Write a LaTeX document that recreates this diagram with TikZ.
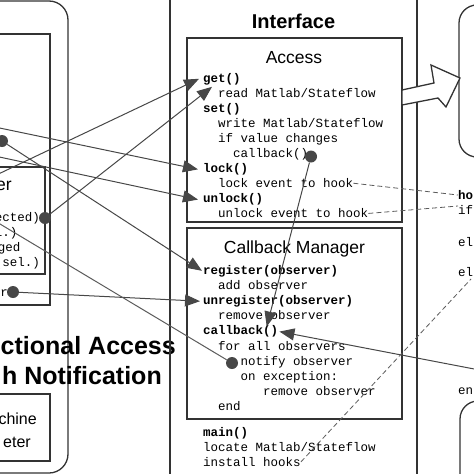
\documentclass[tikz,border=0pt]{standalone}
\usepackage{fontspec}
\setmainfont{Liberation Sans}
\newfontfamily\codefont{Liberation Mono}
\usetikzlibrary{arrows.meta}
\definecolor{framec}{HTML}{333333}
\definecolor{wirec}{HTML}{5C5C5C}
\definecolor{dotc}{HTML}{474747}
\newcommand{\codesize}{\fontsize{12.5}{15}\selectfont}
\begin{document}
\begin{tikzpicture}[x=1pt,y=-1pt,
  frame/.style={draw=framec,line width=1.3pt},
  code/.style={font=\codefont\codesize,anchor=base west,inner sep=0pt},
  fn/.style={font=\codefont\bfseries\codesize,anchor=base west,inner sep=0pt},
  codeR/.style={font=\codefont\codesize,anchor=base east,inner sep=0pt},
  heading/.style={font=\fontsize{17.5}{21}\selectfont,anchor=base,inner sep=0pt},
  bigtitle/.style={font=\bfseries\fontsize{25}{30}\selectfont,anchor=base east,inner sep=0pt},
  label/.style={font=\fontsize{16}{19}\selectfont,anchor=base east,inner sep=0pt},
  wire/.style={draw=wirec,line width=1pt},
  call/.style={wire,-{Triangle[length=15pt,width=12pt]},dotc},
  hookline/.style={draw=wirec,line width=0.8pt,dash pattern=on 5pt off 3pt},
  dot/.style={circle,fill=dotc,inner sep=0pt,minimum size=12pt},
  bigarrow/.style={draw=framec,fill=white,line width=1.3pt,line join=miter}
]
\useasboundingbox (0,0) rectangle (474,474);
\clip (0,0) rectangle (474,474);

% ---------- left side: application ----------
\draw[frame,rounded corners=19pt] (-60,1) rectangle (68,473);
\draw[frame] (-60,34) rectangle (50,305);
\draw[frame] (-60,167) rectangle (45,274);
\draw[frame] (-60,394) rectangle (50,461);

\node[heading,anchor=base east] (obshead) at (12,190) {er};
\node[codeR] (obs1) at (40,221) {ected)};
\node[codeR] (obs2) at (17.5,236) {l.)};
\node[codeR] (obs3) at (20.5,251) {ged};
\node[codeR] (obs4) at (40,266) {(sel.)};
\node[codeR] (obs5) at (8,296) {r};

\node[bigtitle] (title1) at (176,354) {ctional Access};
\node[bigtitle] (title2) at (162,384) {h Notification};

\node[label] (mach1) at (37,424) {chine};
\node[label] (mach2) at (31,447) {eter};

% ---------- middle: interface ----------
\draw[frame] (170,-20) rectangle (417,494);
\node[font=\bfseries\fontsize{20}{24}\selectfont,anchor=base,inner sep=0pt] (iface) at (293.5,28.5) {Interface};

\draw[frame] (187,38) rectangle (402,222);
\node[heading] (acc) at (294,63) {Access};
\node[fn]   (get)      at (203,82)    {get()};
\node[code] (read)     at (218,97.1)  {read Matlab/Stateflow};
\node[fn]   (set)      at (203,112.2) {set()};
\node[code] (write)    at (218,127.3) {write Matlab/Stateflow};
\node[code] (ifv)      at (218,142.4) {if value changes};
\node[code] (cbcall)   at (233,157.5) {callback()};
\node[fn]   (lock)     at (203,172.6) {lock()};
\node[code] (lockev)   at (218,187.7) {lock event to hook};
\node[fn]   (unlock)   at (203,202.8) {unlock()};
\node[code] (unlockev) at (218,217.9) {unlock event to hook};

\draw[frame] (187,228) rectangle (402,419);
\node[heading] (cbm) at (294.5,253) {Callback Manager};
\node[fn]   (reg)    at (203,274)   {register(observer)};
\node[code] (addo)   at (218,289.2) {add observer};
\node[fn]   (unreg)  at (203,304.4) {unregister(observer)};
\node[code] (remo)   at (218,319.6) {remove observer};
\node[fn]   (cb)     at (203,334.8) {callback()};
\node[code] (forall) at (218,350)   {for all observers};
\node[code] (notify) at (240.5,365.2) {notify observer};
\node[code] (onexc)  at (240.5,380.4) {on exception:};
\node[code] (remo2)  at (263,395.6) {remove observer};
\node[code] (endl)   at (218,410.8) {end};

\node[fn]   (main)   at (203,436)   {main()};
\node[code] (locate) at (203,451.2) {locate Matlab/Stateflow};
\node[code] (inst)   at (203,466.4) {install hooks};

% ---------- right side: Matlab/Stateflow ----------
\draw[frame,rounded corners=18pt] (459,5) rectangle (540,157);
\draw[frame,rounded corners=18pt] (460,401) rectangle (540,520);
\node[fn]   (rh1) at (458,199) {ho};
\node[code] (rh2) at (458,214.5) {if};
\node[code] (rh3) at (458,246) {el};
\node[code] (rh4) at (458,276) {el};
\node[code] (rh5) at (458,394) {en};

% hollow arrow from the interface to Matlab/Stateflow
\draw[bigarrow] (402,90) -- (434,83) -- (431,65) -- (460,78) -- (446,107) -- (438,98) -- (402,105) -- cycle;

% ---------- connectors ----------
\node[dot] (d0) at (2,141) {};
\node[dot] (d1) at (45,218) {};
\node[dot] (d2) at (13,292) {};
\node[dot] (d3) at (311,156.5) {};
\node[dot] (d4) at (232,363) {};

\coordinate (srcGet) at (-10,178);
\coordinate (srcLock) at (-10,126);
\coordinate (srcUnlock) at (-10,155);
\coordinate (srcCb) at (495,373);
\coordinate (dstNotify) at (-10,218);
\coordinate (hookA) at (458,195);
\coordinate (hookB) at (458,206);
\coordinate (hookC) at (471,279);

\draw[call] (srcGet) -- ([xshift=-4pt]get.west);
\draw[call] (d1) -- ([xshift=-6pt,yshift=1pt]read.north west);
\draw[call] (srcLock) -- ([xshift=-5pt]lock.west);
\draw[call] (srcUnlock) -- ([xshift=-5pt]unlock.west);
\draw[call] (d0) -- ([xshift=-1pt]reg.west);
\draw[call] (d2) -- ([xshift=-3pt]unreg.west);
\draw[call] (d3) -- ([xshift=26pt,yshift=-1pt]cb.north);
\draw[call] (srcCb) -- ([xshift=1pt]cb.east);
\draw[wire] (d4) -- (dstNotify);

\draw[hookline] (lockev.east) -- (hookA);
\draw[hookline] (unlockev.east) -- (hookB);
\draw[hookline] (inst.east) -- (hookC);
\end{tikzpicture}
\end{document}
